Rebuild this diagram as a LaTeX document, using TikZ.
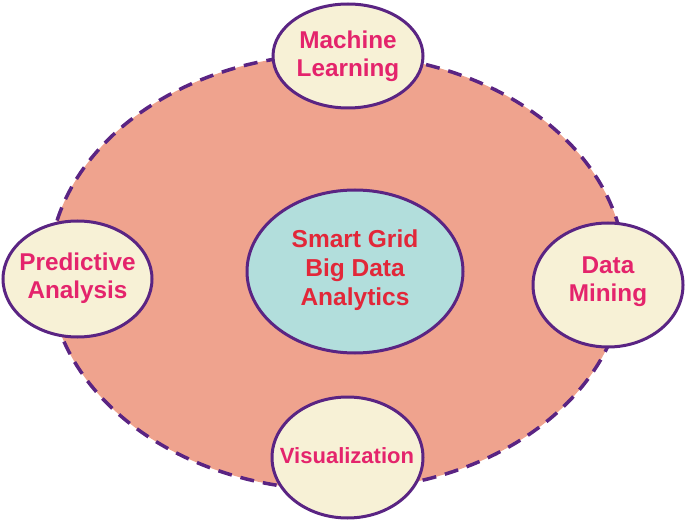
\documentclass[tikz,border=0pt]{standalone}
\usepackage{fontspec}
\setmainfont{Liberation Sans}
\definecolor{salmon}{HTML}{EFA38E}
\definecolor{edge}{HTML}{5A2483}
\definecolor{cream}{HTML}{F7F1D6}
\definecolor{teal}{HTML}{B2DEDC}
\definecolor{pinktext}{HTML}{E4246C}
\definecolor{redtext}{HTML}{E22739}
\tikzset{
  satellite/.style={fill=cream, draw=edge, line width=3pt},
  hub/.style={fill=teal, draw=edge, line width=3pt},
  sattext/.style={text=pinktext, align=center, inner sep=0pt, font=\fontsize{24.3}{28}\selectfont\bfseries},
  hubtext/.style={text=redtext, align=center, inner sep=0pt, font=\fontsize{24.5}{29}\selectfont\bfseries},
}
\begin{document}
\begin{tikzpicture}[x=1pt,y=-1pt]
\useasboundingbox (0,0) rectangle (685,521);
% big background ellipse
\fill[salmon] (337,272) ellipse [x radius=288, y radius=218];
\draw[edge, line width=3.5pt, dash pattern=on 14pt off 9pt] (337,272) ellipse [x radius=288, y radius=218];
% hub
\draw[hub] (355,271.5) ellipse [x radius=108, y radius=81.5];
\node[hubtext] (hub) at (355,270) {Smart Grid\\Big Data\\Analytics};
% satellites
\draw[satellite] (348,56) ellipse [x radius=75, y radius=52];
\node[sattext] (ml) at (348,56) {Machine\\Learning};
\draw[satellite] (77.5,279) ellipse [x radius=74.5, y radius=58];
\node[sattext] (pa) at (77.5,278) {Predictive\\Analysis};
\draw[satellite] (608,285) ellipse [x radius=75, y radius=62];
\node[sattext] (dm) at (608,282) {Data\\Mining};
\draw[satellite] (347.5,457.5) ellipse [x radius=75.5, y radius=60.5];
\node[sattext, font=\fontsize{22}{26}\selectfont\bfseries] (vis) at (347,456) {Visualization};
\end{tikzpicture}
\end{document}
